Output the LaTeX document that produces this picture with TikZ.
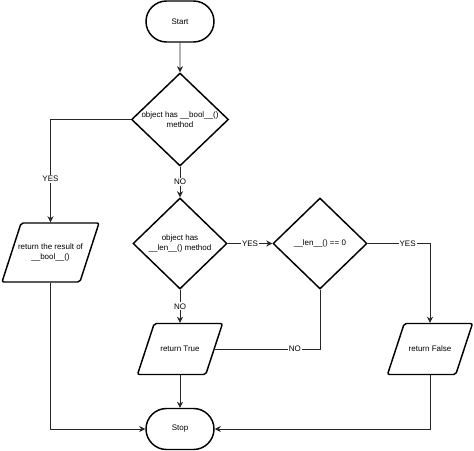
\documentclass[tikz,border=0pt]{standalone}
\usepackage{fontspec}
\setmainfont{Liberation Sans}
\usetikzlibrary{shapes.geometric,shapes.misc,arrows.meta}

\tikzset{
  terminal/.style={draw,line width=1.1pt,rounded rectangle,minimum width=51pt,minimum height=30.75pt,inner sep=0pt},
  decision/.style={draw,line width=1.1pt,diamond,inner sep=0pt},
  io/.style={draw,line width=1.1pt,trapezium,trapezium left angle=72,trapezium right angle=108,trapezium stretches=true,rounded corners=1.5pt,inner sep=2pt},
  flow/.style={draw=black!85,line width=0.6pt},
  arr/.style={flow,-{Stealth[length=4.5pt,width=4.5pt]}},
  lbl/.style={fill=white,inner sep=0.75pt},
}

\begin{document}
\begin{tikzpicture}[x=0.75pt,y=0.75pt,yscale=-1,xscale=1,font=\fontsize{6}{7.5}\selectfont]
\useasboundingbox (0,0) rectangle (474,450);

% Start / Stop
\node[terminal] (start) at (180,21.5) {Start};
\node[terminal] (stop) at (180,429) {Stop};

% Decisions
\node[decision,minimum width=72.75pt,minimum height=69.75pt,label={[align=center]center:object has \_\_bool\_\_()\\method}] (hasbool) at (180,119.5) {};
\node[decision,minimum width=70.5pt,minimum height=68.25pt,label={[align=center]center:object has\\\_\_len\_\_() method}] (haslen) at (180,243.5) {};
\node[decision,minimum width=70.5pt,minimum height=68.25pt,label={center:\_\_len\_\_() == 0}] (lenzero) at (320,243.5) {};

% Outputs
\node[io,minimum width=72.75pt,minimum height=44.25pt,label={[align=center]center:return the result of\\\_\_bool\_\_()}] (retbool) at (50.5,252.5) {};
\node[io,minimum width=63.75pt,minimum height=38.25pt,label={center:return True}] (rettrue) at (180,349) {};
\node[io,minimum width=63.75pt,minimum height=38.25pt,label={center:return False}] (retfalse) at (430,349) {};

% Connectors
\draw[arr] (start) -- (hasbool);
\draw[arr] (hasbool.west) -| node[lbl,pos=0.79] {YES} (retbool.north);
\draw[arr] (hasbool.south) -- node[lbl] {NO} (haslen.north);
\draw[arr] (haslen.east) -- node[lbl] {YES} (lenzero.west);
\draw[arr] (lenzero.east) -| node[lbl,pos=0.32] {YES} (retfalse.north);
\draw[arr] (haslen.south) -- node[lbl] {NO} (rettrue.north);
\draw[flow] (lenzero.south) |- node[lbl,pos=0.62] {NO} (rettrue.east);
\draw[arr] (retbool.south) |- (stop.west);
\draw[arr] (rettrue.south) -- (stop.north);
\draw[arr] (retfalse.south) |- (stop.east);

\end{tikzpicture}
\end{document}
